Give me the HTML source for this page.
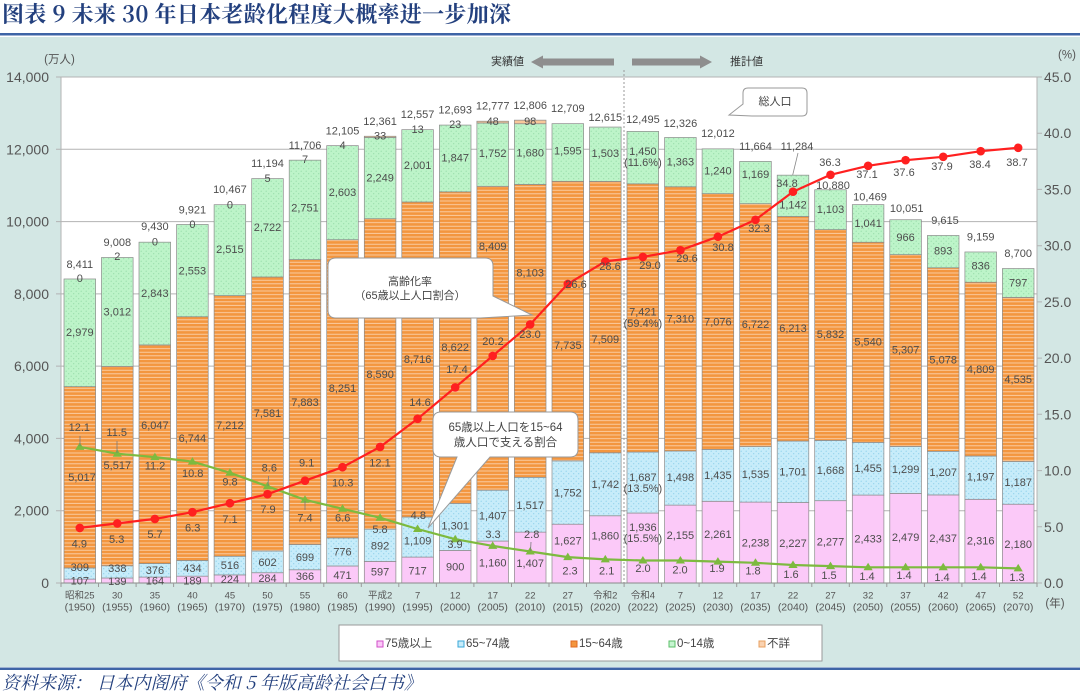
<!DOCTYPE html>
<html><head><meta charset="utf-8">
<style>
html,body{margin:0;padding:0;background:#fff;}
svg{display:block;}
svg text{font-family:"Liberation Sans","Noto Sans CJK JP",sans-serif;dominant-baseline:central;}
.l{font-size:11px;fill:#4d4d4d;text-anchor:middle;}
.ax{font-size:14px;fill:#555;}
.xl{font-size:9.5px;fill:#555;text-anchor:middle;}
.xl2{font-size:10.5px;fill:#555;text-anchor:middle;}
.lg{font-size:11.5px;fill:#444;}
.co{font-size:11px;fill:#444;text-anchor:middle;}
</style></head>
<body>
<svg width="1080" height="691" viewBox="0 0 1080 691" xmlns="http://www.w3.org/2000/svg">
<defs>
<pattern id="po" patternUnits="userSpaceOnUse" width="8" height="3.6"><rect width="8" height="3.6" fill="#f3963f"/><rect y="2.6" width="8" height="0.8" fill="#fcd7b5"/></pattern>
<pattern id="pb" patternUnits="userSpaceOnUse" width="5" height="5"><rect width="5" height="5" fill="#c7ecfa"/><circle cx="1.2" cy="1.2" r="0.6" fill="#8ccfea"/><circle cx="3.7" cy="3.7" r="0.6" fill="#8ccfea"/></pattern>
<pattern id="pg" patternUnits="userSpaceOnUse" width="5" height="5"><rect width="5" height="5" fill="#bdf4c9"/><circle cx="1.2" cy="1.2" r="0.6" fill="#95dca8"/><circle cx="3.7" cy="3.7" r="0.6" fill="#95dca8"/></pattern>
<path id="tri" d="M0,-4.5 L4.6,3 L-4.6,3 Z" fill="#7dba3f"/>
</defs>

<!-- title & frame -->
<text x="2" y="13.5" style="font-family:'Noto Serif CJK SC','Noto Sans CJK SC',serif;font-size:22px;font-weight:bold;fill:#23407e;letter-spacing:0.3px;">图表 9 未来 30 年日本老龄化程度大概率进一步加深</text>
<rect x="0" y="33" width="1080" height="2.5" fill="#3e64a6"/>
<rect x="0" y="37" width="1080" height="630" fill="#d3e7e4"/>
<rect x="0" y="667.5" width="1080" height="2.5" fill="#3e64a6"/>
<text x="2" y="682" style="font-family:'Noto Serif CJK SC','Noto Sans CJK SC',serif;font-size:18px;font-style:italic;fill:#23407e;">资料来源： 日本内阁府《令和 5 年版高龄社会白书》</text>

<!-- plot area -->
<rect x="61" y="77" width="976" height="506" fill="#fff"/>
<g stroke="#b3b3b3" stroke-width="1" fill="none">
<path d="M61,77H1037M61,149.3H1037M61,221.6H1037M61,293.9H1037M61,366.1H1037M61,438.4H1037M61,510.7H1037"/>
<path d="M56,77H61M56,149.3H61M56,221.6H61M56,293.9H61M56,366.1H61M56,438.4H61M56,510.7H61M56,583H61"/>
<path d="M1037,77H1042M1037,133.2H1042M1037,189.4H1042M1037,245.7H1042M1037,301.9H1042M1037,358.1H1042M1037,414.3H1042M1037,470.6H1042M1037,526.8H1042M1037,583H1042"/>
<path d="M61,77V583M1037,77V583"/>
</g>
<line x1="624" y1="70" x2="624" y2="583" stroke="#9a9a9a" stroke-width="1" stroke-dasharray="2,2"/>

<!-- bars -->
<g stroke="#8a8a8a" stroke-width="0.7">
<rect x="64.0" y="579.13" width="31.6" height="3.87" fill="#fbc9f8"/><rect x="64.0" y="567.96" width="31.6" height="11.17" fill="url(#pb)"/><rect x="64.0" y="386.63" width="31.6" height="181.33" fill="url(#po)"/><rect x="64.0" y="278.97" width="31.6" height="107.66" fill="url(#pg)"/>
<rect x="101.5" y="577.98" width="31.6" height="5.02" fill="#fbc9f8"/><rect x="101.5" y="565.76" width="31.6" height="12.22" fill="url(#pb)"/><rect x="101.5" y="366.36" width="31.6" height="199.40" fill="url(#po)"/><rect x="101.5" y="257.50" width="31.6" height="108.86" fill="url(#pg)"/>
<rect x="139.0" y="577.07" width="31.6" height="5.93" fill="#fbc9f8"/><rect x="139.0" y="563.48" width="31.6" height="13.59" fill="url(#pb)"/><rect x="139.0" y="344.93" width="31.6" height="218.55" fill="url(#po)"/><rect x="139.0" y="242.17" width="31.6" height="102.76" fill="url(#pg)"/>
<rect x="176.6" y="576.17" width="31.6" height="6.83" fill="#fbc9f8"/><rect x="176.6" y="560.48" width="31.6" height="15.69" fill="url(#pb)"/><rect x="176.6" y="316.74" width="31.6" height="243.74" fill="url(#po)"/><rect x="176.6" y="224.46" width="31.6" height="92.28" fill="url(#pg)"/>
<rect x="214.1" y="574.90" width="31.6" height="8.10" fill="#fbc9f8"/><rect x="214.1" y="556.25" width="31.6" height="18.65" fill="url(#pb)"/><rect x="214.1" y="295.59" width="31.6" height="260.66" fill="url(#po)"/><rect x="214.1" y="204.69" width="31.6" height="90.90" fill="url(#pg)"/>
<rect x="251.7" y="572.74" width="31.6" height="10.26" fill="#fbc9f8"/><rect x="251.7" y="550.98" width="31.6" height="21.76" fill="url(#pb)"/><rect x="251.7" y="276.98" width="31.6" height="274.00" fill="url(#po)"/><rect x="251.7" y="178.60" width="31.6" height="98.38" fill="url(#pg)"/>
<rect x="289.2" y="569.77" width="31.6" height="13.23" fill="#fbc9f8"/><rect x="289.2" y="544.51" width="31.6" height="25.26" fill="url(#pb)"/><rect x="289.2" y="259.59" width="31.6" height="284.92" fill="url(#po)"/><rect x="289.2" y="160.16" width="31.6" height="99.43" fill="url(#pg)"/>
<rect x="326.7" y="565.98" width="31.6" height="17.02" fill="#fbc9f8"/><rect x="326.7" y="537.93" width="31.6" height="28.05" fill="url(#pb)"/><rect x="326.7" y="239.71" width="31.6" height="298.22" fill="url(#po)"/><rect x="326.7" y="145.64" width="31.6" height="94.07" fill="url(#pg)"/>
<rect x="364.3" y="561.42" width="31.6" height="21.58" fill="#fbc9f8"/><rect x="364.3" y="529.18" width="31.6" height="32.24" fill="url(#pb)"/><rect x="364.3" y="218.71" width="31.6" height="310.47" fill="url(#po)"/><rect x="364.3" y="137.43" width="31.6" height="81.28" fill="url(#pg)"/><rect x="364.3" y="136.24" width="31.6" height="1.19" fill="#f8c79a"/>
<rect x="401.8" y="557.09" width="31.6" height="25.91" fill="#fbc9f8"/><rect x="401.8" y="517.00" width="31.6" height="40.09" fill="url(#pb)"/><rect x="401.8" y="201.98" width="31.6" height="315.02" fill="url(#po)"/><rect x="401.8" y="129.66" width="31.6" height="72.32" fill="url(#pg)"/>
<rect x="439.4" y="550.47" width="31.6" height="32.53" fill="#fbc9f8"/><rect x="439.4" y="503.45" width="31.6" height="47.02" fill="url(#pb)"/><rect x="439.4" y="191.83" width="31.6" height="311.62" fill="url(#po)"/><rect x="439.4" y="125.07" width="31.6" height="66.76" fill="url(#pg)"/>
<rect x="476.9" y="541.07" width="31.6" height="41.93" fill="#fbc9f8"/><rect x="476.9" y="490.22" width="31.6" height="50.85" fill="url(#pb)"/><rect x="476.9" y="186.30" width="31.6" height="303.92" fill="url(#po)"/><rect x="476.9" y="122.97" width="31.6" height="63.33" fill="url(#pg)"/><rect x="476.9" y="121.20" width="31.6" height="1.77" fill="#f8c79a"/>
<rect x="514.4" y="532.15" width="31.6" height="50.85" fill="#fbc9f8"/><rect x="514.4" y="477.32" width="31.6" height="54.83" fill="url(#pb)"/><rect x="514.4" y="184.45" width="31.6" height="292.87" fill="url(#po)"/><rect x="514.4" y="123.73" width="31.6" height="60.72" fill="url(#pg)"/><rect x="514.4" y="120.15" width="31.6" height="3.58" fill="#f8c79a"/>
<rect x="552.0" y="524.20" width="31.6" height="58.80" fill="#fbc9f8"/><rect x="552.0" y="460.87" width="31.6" height="63.33" fill="url(#pb)"/><rect x="552.0" y="181.31" width="31.6" height="279.56" fill="url(#po)"/><rect x="552.0" y="123.66" width="31.6" height="57.65" fill="url(#pg)"/>
<rect x="589.5" y="515.77" width="31.6" height="67.23" fill="#fbc9f8"/><rect x="589.5" y="452.81" width="31.6" height="62.96" fill="url(#pb)"/><rect x="589.5" y="181.42" width="31.6" height="271.39" fill="url(#po)"/><rect x="589.5" y="127.06" width="31.6" height="54.36" fill="url(#pg)"/>
<rect x="627.0" y="513.03" width="31.6" height="69.97" fill="#fbc9f8"/><rect x="627.0" y="452.06" width="31.6" height="60.97" fill="url(#pb)"/><rect x="627.0" y="183.84" width="31.6" height="268.22" fill="url(#po)"/><rect x="627.0" y="131.40" width="31.6" height="52.44" fill="url(#pg)"/>
<rect x="664.6" y="505.11" width="31.6" height="77.89" fill="#fbc9f8"/><rect x="664.6" y="450.97" width="31.6" height="54.14" fill="url(#pb)"/><rect x="664.6" y="186.77" width="31.6" height="264.20" fill="url(#po)"/><rect x="664.6" y="137.50" width="31.6" height="49.27" fill="url(#pg)"/>
<rect x="702.1" y="501.28" width="31.6" height="81.72" fill="#fbc9f8"/><rect x="702.1" y="449.42" width="31.6" height="51.86" fill="url(#pb)"/><rect x="702.1" y="193.67" width="31.6" height="255.75" fill="url(#po)"/><rect x="702.1" y="148.85" width="31.6" height="44.82" fill="url(#pg)"/>
<rect x="739.7" y="502.11" width="31.6" height="80.89" fill="#fbc9f8"/><rect x="739.7" y="446.63" width="31.6" height="55.48" fill="url(#pb)"/><rect x="739.7" y="203.68" width="31.6" height="242.95" fill="url(#po)"/><rect x="739.7" y="161.43" width="31.6" height="42.25" fill="url(#pg)"/>
<rect x="777.2" y="502.51" width="31.6" height="80.49" fill="#fbc9f8"/><rect x="777.2" y="441.03" width="31.6" height="61.48" fill="url(#pb)"/><rect x="777.2" y="216.48" width="31.6" height="224.55" fill="url(#po)"/><rect x="777.2" y="175.16" width="31.6" height="41.32" fill="url(#pg)"/>
<rect x="814.7" y="500.70" width="31.6" height="82.30" fill="#fbc9f8"/><rect x="814.7" y="440.42" width="31.6" height="60.28" fill="url(#pb)"/><rect x="814.7" y="229.63" width="31.6" height="210.79" fill="url(#po)"/><rect x="814.7" y="189.77" width="31.6" height="39.86" fill="url(#pg)"/>
<rect x="852.3" y="495.06" width="31.6" height="87.94" fill="#fbc9f8"/><rect x="852.3" y="442.48" width="31.6" height="52.58" fill="url(#pb)"/><rect x="852.3" y="242.24" width="31.6" height="200.24" fill="url(#po)"/><rect x="852.3" y="204.62" width="31.6" height="37.62" fill="url(#pg)"/>
<rect x="889.8" y="493.40" width="31.6" height="89.60" fill="#fbc9f8"/><rect x="889.8" y="446.45" width="31.6" height="46.95" fill="url(#pb)"/><rect x="889.8" y="254.64" width="31.6" height="191.81" fill="url(#po)"/><rect x="889.8" y="219.73" width="31.6" height="34.91" fill="url(#pg)"/>
<rect x="927.4" y="494.92" width="31.6" height="88.08" fill="#fbc9f8"/><rect x="927.4" y="451.30" width="31.6" height="43.62" fill="url(#pb)"/><rect x="927.4" y="267.76" width="31.6" height="183.54" fill="url(#po)"/><rect x="927.4" y="235.49" width="31.6" height="32.27" fill="url(#pg)"/>
<rect x="964.9" y="499.29" width="31.6" height="83.71" fill="#fbc9f8"/><rect x="964.9" y="456.03" width="31.6" height="43.26" fill="url(#pb)"/><rect x="964.9" y="282.22" width="31.6" height="173.81" fill="url(#po)"/><rect x="964.9" y="251.97" width="31.6" height="30.25" fill="url(#pg)"/>
<rect x="1002.4" y="504.21" width="31.6" height="78.79" fill="#fbc9f8"/><rect x="1002.4" y="461.31" width="31.6" height="42.90" fill="url(#pb)"/><rect x="1002.4" y="297.40" width="31.6" height="164.09" fill="url(#po)"/><rect x="1002.4" y="268.56" width="31.6" height="28.84" fill="url(#pg)"/>
</g>
<line x1="61" y1="583" x2="1037" y2="583" stroke="#8a8a8a" stroke-width="1"/>
<path d="M61,583V587M98.5,583V587M136.1,583V587M173.6,583V587M211.2,583V587M248.7,583V587M286.2,583V587M323.8,583V587M361.3,583V587M398.8,583V587M436.4,583V587M473.9,583V587M511.5,583V587M549,583V587M586.5,583V587M624.1,583V587M661.6,583V587M699.1,583V587M736.7,583V587M774.2,583V587M811.8,583V587M849.3,583V587M886.8,583V587M924.4,583V587M961.9,583V587M999.5,583V587M1037,583V587" stroke="#9a9a9a" stroke-width="1"/>

<!-- segment labels -->
<g class="l">
<text class="l" x="79.8" y="265">8,411</text><text class="l" x="79.8" y="279">0</text><text class="l" x="79.8" y="333">2,979</text><text class="l" x="82" y="478">5,017</text><text class="l" x="79.8" y="568">309</text><text class="l" x="79.8" y="581.5">107</text>
<text class="l" x="117.3" y="243">9,008</text><text class="l" x="117.3" y="257">2</text><text class="l" x="117.3" y="312.7">3,012</text><text class="l" x="117.3" y="466">5,517</text><text class="l" x="117.3" y="569">338</text><text class="l" x="117.3" y="582">139</text>
<text class="l" x="154.9" y="227">9,430</text><text class="l" x="154.9" y="242.5">0</text><text class="l" x="154.9" y="294">2,843</text><text class="l" x="154.9" y="426">6,047</text><text class="l" x="154.9" y="571">376</text><text class="l" x="154.9" y="581.5">164</text>
<text class="l" x="192.4" y="210.7">9,921</text><text class="l" x="192.4" y="225">0</text><text class="l" x="192.4" y="271.5">2,553</text><text class="l" x="192.4" y="439">6,744</text><text class="l" x="192.4" y="569">434</text><text class="l" x="192.4" y="581.5">189</text>
<text class="l" x="229.9" y="190">10,467</text><text class="l" x="229.9" y="205.5">0</text><text class="l" x="229.9" y="250">2,515</text><text class="l" x="229.9" y="426">7,212</text><text class="l" x="229.9" y="566">516</text><text class="l" x="229.9" y="580">224</text>
<text class="l" x="267.5" y="164">11,194</text><text class="l" x="267.5" y="179">5</text><text class="l" x="267.5" y="228">2,722</text><text class="l" x="267.5" y="414">7,581</text><text class="l" x="267.5" y="563">602</text><text class="l" x="267.5" y="579">284</text>
<text class="l" x="305" y="146">11,706</text><text class="l" x="305" y="160">7</text><text class="l" x="305" y="208.5">2,751</text><text class="l" x="305" y="403">7,883</text><text class="l" x="305" y="558">699</text><text class="l" x="305" y="577">366</text>
<text class="l" x="342.5" y="131.7">12,105</text><text class="l" x="342.5" y="146">4</text><text class="l" x="342.5" y="193">2,603</text><text class="l" x="342.5" y="389">8,251</text><text class="l" x="342.5" y="552.7">776</text><text class="l" x="342.5" y="576">471</text>
<text class="l" x="380.1" y="122">12,361</text><text class="l" x="380.1" y="136.7">33</text><text class="l" x="380.1" y="178.3">2,249</text><text class="l" x="380.1" y="375">8,590</text><text class="l" x="380.1" y="546.7">892</text><text class="l" x="380.1" y="572.7">597</text>
<text class="l" x="417.6" y="115">12,557</text><text class="l" x="417.6" y="130">13</text><text class="l" x="417.6" y="166">2,001</text><text class="l" x="417.6" y="360">8,716</text><text class="l" x="417.6" y="541.7">1,109</text><text class="l" x="417.6" y="571.7">717</text>
<text class="l" x="455.2" y="110.7">12,693</text><text class="l" x="455.2" y="125">23</text><text class="l" x="455.2" y="158.3">1,847</text><text class="l" x="455.2" y="348">8,622</text><text class="l" x="455.2" y="526.7">1,301</text><text class="l" x="455.2" y="567.5">900</text>
<text class="l" x="492.7" y="106.7">12,777</text><text class="l" x="492.7" y="122">48</text><text class="l" x="492.7" y="154">1,752</text><text class="l" x="492.7" y="247">8,409</text><text class="l" x="492.7" y="516.7">1,407</text><text class="l" x="492.7" y="563.3">1,160</text>
<text class="l" x="530.2" y="106">12,806</text><text class="l" x="530.2" y="122">98</text><text class="l" x="530.2" y="153.3">1,680</text><text class="l" x="530.2" y="273.3">8,103</text><text class="l" x="530.2" y="506">1,517</text><text class="l" x="530.2" y="564">1,407</text>
<text class="l" x="567.8" y="109">12,709</text><text class="l" x="567.8" y="151.7">1,595</text><text class="l" x="567.8" y="346">7,735</text><text class="l" x="567.8" y="493.3">1,752</text><text class="l" x="567.8" y="541.7">1,627</text>
<text class="l" x="605.3" y="118">12,615</text><text class="l" x="605.3" y="154">1,503</text><text class="l" x="605.3" y="340">7,509</text><text class="l" x="605.3" y="485">1,742</text><text class="l" x="605.3" y="536.7">1,860</text>
<text class="l" x="642.9" y="120">12,495</text><text class="l" x="642.9" y="152">1,450</text><text class="l" x="642.9" y="163">(11.6%)</text><text class="l" x="642.9" y="312.7">7,421</text><text class="l" x="642.9" y="324">(59.4%)</text><text class="l" x="642.9" y="478">1,687</text><text class="l" x="642.9" y="489">(13.5%)</text><text class="l" x="642.9" y="528">1,936</text><text class="l" x="642.9" y="539">(15.5%)</text>
<text class="l" x="680.4" y="124">12,326</text><text class="l" x="680.4" y="162.7">1,363</text><text class="l" x="680.4" y="319.3">7,310</text><text class="l" x="680.4" y="478">1,498</text><text class="l" x="680.4" y="536">2,155</text>
<text class="l" x="717.9" y="134">12,012</text><text class="l" x="717.9" y="171.7">1,240</text><text class="l" x="717.9" y="322.7">7,076</text><text class="l" x="717.9" y="476">1,435</text><text class="l" x="717.9" y="535">2,261</text>
<text class="l" x="755.5" y="147">11,664</text><text class="l" x="755.5" y="175">1,169</text><text class="l" x="755.5" y="325">6,722</text><text class="l" x="755.5" y="475">1,535</text><text class="l" x="755.5" y="543.3">2,238</text>
<text class="l" x="797" y="147">11,284</text><text class="l" x="793" y="205.7">1,142</text><text class="l" x="793" y="329">6,213</text><text class="l" x="793" y="472.7">1,701</text><text class="l" x="793" y="544">2,227</text>
<text class="l" x="833" y="186">10,880</text><text class="l" x="830.5" y="210">1,103</text><text class="l" x="830.5" y="335">5,832</text><text class="l" x="830.5" y="471">1,668</text><text class="l" x="830.5" y="542.7">2,277</text>
<text class="l" x="870" y="197.7">10,469</text><text class="l" x="868.1" y="224">1,041</text><text class="l" x="868.1" y="342.7">5,540</text><text class="l" x="868.1" y="469">1,455</text><text class="l" x="868.1" y="539.3">2,433</text>
<text class="l" x="906.7" y="209">10,051</text><text class="l" x="905.6" y="238">966</text><text class="l" x="905.6" y="350.7">5,307</text><text class="l" x="905.6" y="470">1,299</text><text class="l" x="905.6" y="538">2,479</text>
<text class="l" x="945" y="221">9,615</text><text class="l" x="943.2" y="251.7">893</text><text class="l" x="943.2" y="360.7">5,078</text><text class="l" x="943.2" y="473">1,207</text><text class="l" x="943.2" y="539">2,437</text>
<text class="l" x="980.7" y="237.7">9,159</text><text class="l" x="980.7" y="266.7">836</text><text class="l" x="980.7" y="370">4,809</text><text class="l" x="980.7" y="477.7">1,197</text><text class="l" x="980.7" y="541.7">2,316</text>
<text class="l" x="1018.2" y="254">8,700</text><text class="l" x="1018.2" y="283.3">797</text><text class="l" x="1018.2" y="380">4,535</text><text class="l" x="1018.2" y="482.8">1,187</text><text class="l" x="1018.2" y="545">2,180</text>
</g>
<line x1="798" y1="153" x2="792.7" y2="175" stroke="#888" stroke-width="0.8"/>

<!-- green line -->
<polyline fill="none" stroke="#7dba3f" stroke-width="2.2" stroke-linejoin="round" points="79.8,446.9 117.3,453.7 154.9,457.1 192.4,461.6 229.9,472.8 267.5,486.3 305.0,499.8 342.5,508.8 380.1,517.8 417.6,529.0 455.2,539.2 492.7,545.9 530.2,551.5 567.8,557.1 605.3,559.4 642.9,560.5 680.4,560.5 717.9,561.6 755.5,562.8 793.0,565.0 830.5,566.1 868.1,567.3 905.6,567.3 943.2,567.3 980.7,567.3 1018.2,568.4"/>
<g>
<use href="#tri" x="79.8" y="446.9"/><use href="#tri" x="117.3" y="453.7"/><use href="#tri" x="154.9" y="457.1"/><use href="#tri" x="192.4" y="461.6"/><use href="#tri" x="229.9" y="472.8"/><use href="#tri" x="267.5" y="486.3"/><use href="#tri" x="305.0" y="499.8"/><use href="#tri" x="342.5" y="508.8"/><use href="#tri" x="380.1" y="517.8"/><use href="#tri" x="417.6" y="529.0"/><use href="#tri" x="455.2" y="539.2"/><use href="#tri" x="492.7" y="545.9"/><use href="#tri" x="530.2" y="551.5"/><use href="#tri" x="567.8" y="557.1"/><use href="#tri" x="605.3" y="559.4"/><use href="#tri" x="642.9" y="560.5"/><use href="#tri" x="680.4" y="560.5"/><use href="#tri" x="717.9" y="561.6"/><use href="#tri" x="755.5" y="562.8"/><use href="#tri" x="793.0" y="565.0"/><use href="#tri" x="830.5" y="566.1"/><use href="#tri" x="868.1" y="567.3"/><use href="#tri" x="905.6" y="567.3"/><use href="#tri" x="943.2" y="567.3"/><use href="#tri" x="980.7" y="567.3"/><use href="#tri" x="1018.2" y="568.4"/>
</g>
<g stroke="#7a7a7a" stroke-width="0.8">
<line x1="80" y1="436" x2="80" y2="446"/><line x1="117" y1="441" x2="117" y2="453"/><line x1="268.5" y1="476" x2="268" y2="486"/><line x1="305" y1="510" x2="305" y2="501"/><line x1="531" y1="542" x2="530.5" y2="551"/>
</g>

<!-- red line -->
<polyline fill="none" stroke="#ff2020" stroke-width="2.2" stroke-linejoin="round" points="79.8,527.9 117.3,523.4 154.9,518.9 192.4,512.2 229.9,503.2 267.5,494.2 305.0,480.7 342.5,467.2 380.1,446.9 417.6,418.8 455.2,387.4 492.7,355.9 530.2,324.4 567.8,283.9 605.3,261.4 642.9,256.9 680.4,250.2 717.9,236.7 755.5,219.8 793.0,191.7 830.5,174.8 868.1,165.8 905.6,160.2 943.2,156.8 980.7,151.2 1018.2,147.8"/>
<g fill="#ff2020">
<circle cx="79.8" cy="527.9" r="4.3"/><circle cx="117.3" cy="523.4" r="4.3"/><circle cx="154.9" cy="518.9" r="4.3"/><circle cx="192.4" cy="512.2" r="4.3"/><circle cx="229.9" cy="503.2" r="4.3"/><circle cx="267.5" cy="494.2" r="4.3"/><circle cx="305.0" cy="480.7" r="4.3"/><circle cx="342.5" cy="467.2" r="4.3"/><circle cx="380.1" cy="446.9" r="4.3"/><circle cx="417.6" cy="418.8" r="4.3"/><circle cx="455.2" cy="387.4" r="4.3"/><circle cx="492.7" cy="355.9" r="4.3"/><circle cx="530.2" cy="324.4" r="4.3"/><circle cx="567.8" cy="283.9" r="4.3"/><circle cx="605.3" cy="261.4" r="4.3"/><circle cx="642.9" cy="256.9" r="4.3"/><circle cx="680.4" cy="250.2" r="4.3"/><circle cx="717.9" cy="236.7" r="4.3"/><circle cx="755.5" cy="219.8" r="4.3"/><circle cx="793.0" cy="191.7" r="4.3"/><circle cx="830.5" cy="174.8" r="4.3"/><circle cx="868.1" cy="165.8" r="4.3"/><circle cx="905.6" cy="160.2" r="4.3"/><circle cx="943.2" cy="156.8" r="4.3"/><circle cx="980.7" cy="151.2" r="4.3"/><circle cx="1018.2" cy="147.8" r="4.3"/>
</g>

<!-- ratio labels -->
<g>
<text class="l" x="79.3" y="544.3">4.9</text><text class="l" x="116.7" y="540">5.3</text><text class="l" x="155" y="535">5.7</text><text class="l" x="192.7" y="528.3">6.3</text><text class="l" x="230" y="520">7.1</text><text class="l" x="268" y="510">7.9</text><text class="l" x="306.7" y="463.3">9.1</text><text class="l" x="342.7" y="483.3">10.3</text><text class="l" x="380" y="463.3">12.1</text><text class="l" x="420" y="403">14.6</text><text class="l" x="457" y="370">17.4</text><text class="l" x="493" y="342">20.2</text><text class="l" x="530" y="335">23.0</text><text class="l" x="576" y="285">26.6</text><text class="l" x="610" y="267">28.6</text><text class="l" x="650" y="266">29.0</text><text class="l" x="687" y="259">29.6</text><text class="l" x="723" y="248">30.8</text><text class="l" x="759" y="229">32.3</text><text class="l" x="787" y="184">34.8</text><text class="l" x="830" y="163">36.3</text><text class="l" x="867" y="175">37.1</text><text class="l" x="904" y="173">37.6</text><text class="l" x="942" y="167">37.9</text><text class="l" x="980" y="165">38.4</text><text class="l" x="1017" y="163">38.7</text>
<text class="l" x="79.3" y="428">12.1</text><text class="l" x="116.7" y="433">11.5</text><text class="l" x="155" y="466.7">11.2</text><text class="l" x="192.7" y="474">10.8</text><text class="l" x="230" y="482.7">9.8</text><text class="l" x="269.3" y="468.3">8.6</text><text class="l" x="305" y="518.3">7.4</text><text class="l" x="342.7" y="518.3">6.6</text><text class="l" x="380" y="530">5.8</text><text class="l" x="418.3" y="516">4.8</text><text class="l" x="455" y="545">3.9</text><text class="l" x="493" y="535">3.3</text><text class="l" x="531.7" y="535">2.8</text><text class="l" x="570" y="571.7">2.3</text><text class="l" x="606.7" y="571.7">2.1</text><text class="l" x="643" y="569">2.0</text><text class="l" x="680" y="570.7">2.0</text><text class="l" x="717" y="569">1.9</text><text class="l" x="753" y="571.7">1.8</text><text class="l" x="791" y="575">1.6</text><text class="l" x="829" y="576">1.5</text><text class="l" x="867" y="577">1.4</text><text class="l" x="904" y="576">1.4</text><text class="l" x="942" y="578">1.4</text><text class="l" x="979" y="577">1.4</text><text class="l" x="1017" y="578">1.3</text>
</g>

<!-- callouts -->
<g fill="#fff" stroke="#9a9a9a" stroke-width="1">
<path d="M748,88 H802 Q807,88 807,93 V111 Q807,116 802,116 H752 L729,115 L743,104 V93 Q743,88 748,88 Z"/>
<path d="M336,258 H485 Q493,258 493,266 V296 L532,315 L480,318 H336 Q328,318 328,310 V266 Q328,258 336,258 Z"/>
<path d="M441,412 H570 Q578,412 578,420 V449 Q578,457 570,457 H490 L428,528 L457,457 H441 Q433,457 433,449 V420 Q433,412 441,412 Z"/>
</g>
<text class="co" x="775" y="102">総人口</text>
<text class="co" x="410" y="282">高齢化率</text>
<text class="co" x="410" y="296">（65歳以上人口割合）</text>
<text class="co" x="505.5" y="428" style="font-size:11.5px">65歳以上人口を15~64</text>
<text class="co" x="505.5" y="443" style="font-size:11.5px">歳人口で支える割合</text>

<!-- actual / estimate arrows -->
<text x="524" y="62" style="font-size:11px;fill:#333;text-anchor:end;">実績値</text>
<polygon points="531,62 543,55.5 543,58.5 614,58.5 614,65.5 543,65.5 543,68.5" fill="#8e8e8e"/>
<polygon points="632,58.5 700,58.5 700,55.5 712,62 700,68.5 700,65.5 632,65.5" fill="#8e8e8e"/>
<text x="730" y="62" style="font-size:11px;fill:#333;">推計値</text>

<!-- axes labels -->
<text x="59.5" y="60" style="font-size:11.5px;fill:#555;text-anchor:middle;">(万人)</text>
<text x="1067" y="55.5" style="font-size:11.5px;fill:#555;text-anchor:middle;">(%)</text>
<g>
<text class="ax" x="49" y="77" text-anchor="end">14,000</text><text class="ax" x="49" y="149.3" text-anchor="end">12,000</text><text class="ax" x="49" y="221.6" text-anchor="end">10,000</text><text class="ax" x="49" y="293.9" text-anchor="end">8,000</text><text class="ax" x="49" y="366.1" text-anchor="end">6,000</text><text class="ax" x="49" y="438.4" text-anchor="end">4,000</text><text class="ax" x="49" y="510.7" text-anchor="end">2,000</text><text class="ax" x="49" y="583" text-anchor="end">0</text>
</g>
<g>
<text class="ax" x="1044" y="77">45.0</text><text class="ax" x="1044" y="133.2">40.0</text><text class="ax" x="1044" y="189.4">35.0</text><text class="ax" x="1044" y="245.7">30.0</text><text class="ax" x="1044" y="301.9">25.0</text><text class="ax" x="1044" y="358.1">20.0</text><text class="ax" x="1044" y="414.3">15.0</text><text class="ax" x="1044" y="470.6">10.0</text><text class="ax" x="1044" y="526.8">5.0</text><text class="ax" x="1044" y="583">0.0</text>
</g>
<text x="1055" y="604" style="font-size:11.5px;fill:#555;text-anchor:middle;">(年)</text>

<!-- x labels -->
<g>
<text class="xl" x="79.8" y="596">昭和25</text><text class="xl" x="117.3" y="596">30</text><text class="xl" x="154.9" y="596">35</text><text class="xl" x="192.4" y="596">40</text><text class="xl" x="229.9" y="596">45</text><text class="xl" x="267.5" y="596">50</text><text class="xl" x="305" y="596">55</text><text class="xl" x="342.5" y="596">60</text><text class="xl" x="380.1" y="596">平成2</text><text class="xl" x="417.6" y="596">7</text><text class="xl" x="455.2" y="596">12</text><text class="xl" x="492.7" y="596">17</text><text class="xl" x="530.2" y="596">22</text><text class="xl" x="567.8" y="596">27</text><text class="xl" x="605.3" y="596">令和2</text><text class="xl" x="642.9" y="596">令和4</text><text class="xl" x="680.4" y="596">7</text><text class="xl" x="717.9" y="596">12</text><text class="xl" x="755.5" y="596">17</text><text class="xl" x="793" y="596">22</text><text class="xl" x="830.5" y="596">27</text><text class="xl" x="868.1" y="596">32</text><text class="xl" x="905.6" y="596">37</text><text class="xl" x="943.2" y="596">42</text><text class="xl" x="980.7" y="596">47</text><text class="xl" x="1018.2" y="596">52</text>
<text class="xl2" x="79.8" y="607.5">(1950)</text><text class="xl2" x="117.3" y="607.5">(1955)</text><text class="xl2" x="154.9" y="607.5">(1960)</text><text class="xl2" x="192.4" y="607.5">(1965)</text><text class="xl2" x="229.9" y="607.5">(1970)</text><text class="xl2" x="267.5" y="607.5">(1975)</text><text class="xl2" x="305" y="607.5">(1980)</text><text class="xl2" x="342.5" y="607.5">(1985)</text><text class="xl2" x="380.1" y="607.5">(1990)</text><text class="xl2" x="417.6" y="607.5">(1995)</text><text class="xl2" x="455.2" y="607.5">(2000)</text><text class="xl2" x="492.7" y="607.5">(2005)</text><text class="xl2" x="530.2" y="607.5">(2010)</text><text class="xl2" x="567.8" y="607.5">(2015)</text><text class="xl2" x="605.3" y="607.5">(2020)</text><text class="xl2" x="642.9" y="607.5">(2022)</text><text class="xl2" x="680.4" y="607.5">(2025)</text><text class="xl2" x="717.9" y="607.5">(2030)</text><text class="xl2" x="755.5" y="607.5">(2035)</text><text class="xl2" x="793" y="607.5">(2040)</text><text class="xl2" x="830.5" y="607.5">(2045)</text><text class="xl2" x="868.1" y="607.5">(2050)</text><text class="xl2" x="905.6" y="607.5">(2055)</text><text class="xl2" x="943.2" y="607.5">(2060)</text><text class="xl2" x="980.7" y="607.5">(2065)</text><text class="xl2" x="1018.2" y="607.5">(2070)</text>
</g>

<!-- legend -->
<rect x="339" y="625" width="483" height="36" fill="#fff" stroke="#9a9a9a" stroke-width="1"/>
<rect x="377" y="641" width="6" height="6" fill="#fbc9f8" stroke="#d04fc8" stroke-width="1"/>
<text class="lg" x="385" y="644">75歳以上</text>
<rect x="458" y="641" width="6" height="6" fill="#c7ecfa" stroke="#3aa7d8" stroke-width="1"/>
<text class="lg" x="466" y="644">65~74歳</text>
<rect x="571" y="641" width="6" height="6" fill="#f3963f" stroke="#e06a20" stroke-width="1"/>
<text class="lg" x="579" y="644">15~64歳</text>
<rect x="669" y="641" width="6" height="6" fill="#c6f5d0" stroke="#5cbf6a" stroke-width="1"/>
<text class="lg" x="677" y="644">0~14歳</text>
<rect x="759" y="641" width="6" height="6" fill="#fad2b0" stroke="#e8a060" stroke-width="1"/>
<text class="lg" x="767" y="644">不詳</text>
</svg>
</body></html>
